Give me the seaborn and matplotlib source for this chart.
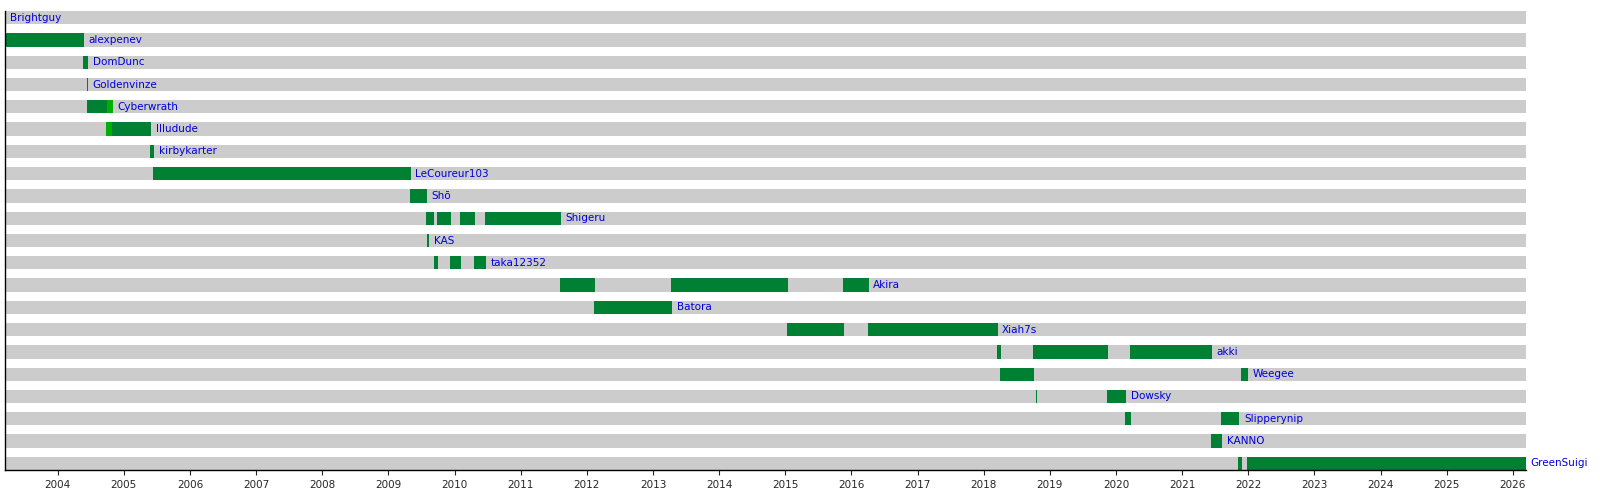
import matplotlib
matplotlib.use("Agg")
import matplotlib.pyplot as plt
import seaborn as sns
import pandas as pd

# time range of the chart (fractional years)
x_start = 2003.208
x_end = 2026.2

users = ["Brightguy", "alexpenev", "DomDunc", "Goldenvinze", "Cyberwrath",
         "Illudude", "kirbykarter", "LeCoureur103", "Shō", "Shigeru", "KAS",
         "taka12352", "Akira", "Batora", "Xiah7s", "akki", "Weegee", "Dowsky",
         "Slipperynip", "KANNO", "GreenSuigi"]

# terms per user: (start, end) in fractional years
terms = [
    [(2003.19, 2003.208)],
    [(2003.208, 2004.393)],
    [(2004.383, 2004.458)],
    [(2004.443, 2004.458)],
    [(2004.443, 2004.745)],
    [(2004.821, 2005.411)],
    [(2005.396, 2005.456)],
    [(2005.441, 2009.337)],
    [(2009.327, 2009.581)],
    [(2009.568, 2009.695), (2009.735, 2009.946), (2010.082, 2010.309), (2010.460, 2011.609)],
    [(2009.581, 2009.614)],
    [(2009.690, 2009.750), (2009.932, 2010.098), (2010.294, 2010.476)],
    [(2011.594, 2012.124), (2013.273, 2015.042), (2015.874, 2016.259)],
    [(2012.109, 2013.288)],
    [(2015.027, 2015.889), (2016.251, 2018.209)],
    [(2018.202, 2018.262), (2018.746, 2019.880), (2020.213, 2021.453)],
    [(2018.247, 2018.761), (2021.891, 2021.997)],
    [(2018.790, 2018.805), (2019.869, 2020.156)],
    [(2020.141, 2020.232), (2021.593, 2021.865)],
    [(2021.442, 2021.609)],
    [(2021.851, 2021.912), (2021.987, 2026.2)],
]

# interim terms (lighter green): user index -> (start, end)
interim_user = [4, 5]
interim_terms = [(2004.745, 2004.836), (2004.730, 2004.821)]

sns.set_style("ticks")
plt.rcParams['font.family'] = ['DejaVu Sans']

fig = plt.figure(figsize=(16, 5), dpi=100)
ax = fig.add_axes([0.0033, 0.06, 0.9505, 0.918])

bar_h = 0.6
gray = "#cccccc"
dark = "#008033"
light = "#00b000"

rows = list(range(len(users)))
ax.barh(rows, [x_end - x_start] * len(users), left=x_start, height=bar_h,
        color=gray, edgecolor="none")

for i, segs in enumerate(terms):
    for s, e in segs:
        ax.barh(i, e - s, left=s, height=bar_h, color=dark, edgecolor="none")

for i, (s, e) in zip(interim_user, interim_terms):
    ax.barh(i, e - s, left=s, height=bar_h, color=light, edgecolor="none")

# name after the last piece of each row
for i, name in enumerate(users):
    last = max([e for s, e in terms[i]] +
               [interim_terms[k][1] for k, u in enumerate(interim_user) if u == i])
    ax.annotate(name, (max(last, x_start), i), xytext=(3.3, 0),
                textcoords="offset points", va="center", ha="left",
                color="#0000dd", fontsize=7.5)

ax.set_xlim(x_start, x_end)
ax.set_ylim(len(users) - 1 + bar_h / 2, -bar_h / 2)
ax.set_xticks(range(2004, 2027))
ax.set_xticklabels([str(y) for y in range(2004, 2027)], fontsize=7.5)
ax.set_yticks([])
ax.tick_params(axis="x", length=3.5, width=0.8, direction="out")
sns.despine(ax=ax, top=True, right=True)
for sp in ["left", "bottom"]:
    ax.spines[sp].set_color("black")
    ax.spines[sp].set_linewidth(1.0)

fig.savefig("out.png", dpi=100)
